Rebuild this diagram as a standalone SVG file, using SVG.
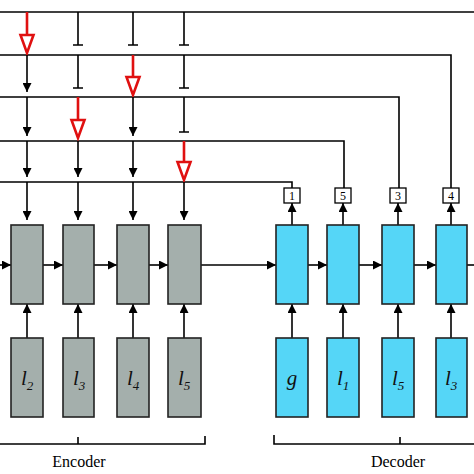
<svg xmlns="http://www.w3.org/2000/svg" width="474" height="474" viewBox="0 0 474 474">
<defs>
<marker id="ah" viewBox="0 0 10 10" refX="10" refY="5" markerWidth="9" markerHeight="9" markerUnits="userSpaceOnUse" orient="auto"><path d="M0,0 L10,5 L0,10 Z" fill="#000"/></marker>
</defs>
<style>
.ln{stroke:#000;stroke-width:1.6;fill:none}
.ar{stroke:#000;stroke-width:1.6;fill:none;marker-end:url(#ah)}
.red{stroke:#e01010;stroke-width:2.6;fill:none}
.enc{fill:#a4afac;stroke:#222;stroke-width:1.6}
.dec{fill:#55d6f7;stroke:#222;stroke-width:1.6}
.sb{fill:#fff;stroke:#000;stroke-width:1.3}
.lb{font-family:"Liberation Serif",serif;font-style:italic;font-size:21px;fill:#111}
.sub{font-size:13px}
.nb{font-family:"Liberation Serif",serif;font-size:12px;fill:#000;text-anchor:middle}
.cap{font-family:"Liberation Serif",serif;font-size:16px;fill:#000;text-anchor:middle}
</style>
<g id="connectors">
<!-- horizontal buses -->
<path class="ln" d="M0,12 H474"/>
<path class="ln" d="M0,55 H451 V188"/>
<path class="ln" d="M0,97 H399 V188"/>
<path class="ln" d="M0,141 H344 V188"/>
<path class="ln" d="M0,182 H292 V188"/>
<!-- band 1 -->
<path class="red" d="M27,12 V35"/><path class="red" d="M20.5,35 H33.5 L27,53 Z"/>
<path class="ln" d="M78,12 V45 M73,45 H83"/>
<path class="ln" d="M133,12 V45 M128,45 H138"/>
<path class="ln" d="M184,12 V45 M179,45 H189"/>
<!-- band 2 -->
<path class="ar" d="M27,55 V92"/>
<path class="ln" d="M78,55 V88 M73,88 H83"/>
<path class="red" d="M133,55 V77"/><path class="red" d="M126.5,77 H139.5 L133,95 Z"/>
<path class="ln" d="M184,55 V88 M179,88 H189"/>
<!-- band 3 -->
<path class="ar" d="M27,97 V136"/>
<path class="red" d="M78,97 V120"/><path class="red" d="M71.5,120 H84.5 L78,138 Z"/>
<path class="ar" d="M133,97 V136"/>
<path class="ln" d="M184,97 V132 M179,132 H189"/>
<!-- band 4 -->
<path class="ar" d="M27,141 V177"/>
<path class="ar" d="M78,141 V177"/>
<path class="ar" d="M133,141 V177"/>
<path class="red" d="M184,141 V162"/><path class="red" d="M177.5,162 H190.5 L184,180 Z"/>
<!-- into encoder -->
<path class="ar" d="M27,182 V220"/>
<path class="ar" d="M78,182 V220"/>
<path class="ar" d="M133,182 V220"/>
<path class="ar" d="M184,182 V220"/>
<!-- horizontal recurrence -->
<path class="ar" d="M0,265 H11"/>
<path class="ar" d="M43,265 H63"/>
<path class="ar" d="M94,265 H117"/>
<path class="ar" d="M149,265 H168"/>
<path class="ar" d="M201,265 H276"/>
<path class="ar" d="M308,265 H327"/>
<path class="ar" d="M359,265 H382"/>
<path class="ar" d="M414,265 H436"/>
<path class="ln" d="M467,265 H474"/>
<!-- inputs up -->
<path class="ar" d="M27,338 V304"/>
<path class="ar" d="M78,338 V304"/>
<path class="ar" d="M133,338 V304"/>
<path class="ar" d="M184,338 V304"/>
<path class="ar" d="M292,338 V304"/>
<path class="ar" d="M343,338 V304"/>
<path class="ar" d="M398,338 V304"/>
<path class="ar" d="M451,338 V304"/>
<!-- outputs up -->
<path class="ar" d="M292,225 V203"/>
<path class="ar" d="M343,225 V203"/>
<path class="ar" d="M398,225 V203"/>
<path class="ar" d="M451,225 V203"/>
<!-- brackets -->
<path class="ln" d="M0,444 H205 V436 M78,444 V437"/>
<path class="ln" d="M274,435 V444 H474 M400,444 V437"/>
</g>
<g id="enc1"><rect class="enc" x="11" y="225" width="32" height="79"/></g>
<g id="enc2"><rect class="enc" x="63" y="225" width="31" height="79"/></g>
<g id="enc3"><rect class="enc" x="117" y="225" width="32" height="79"/></g>
<g id="enc4"><rect class="enc" x="168" y="225" width="33" height="79"/></g>
<g id="in-l2"><rect class="enc" x="11" y="338" width="32" height="79"/><text class="lb" x="21" y="385">l<tspan class="sub" dy="5">2</tspan></text></g>
<g id="in-l3"><rect class="enc" x="63" y="338" width="31" height="79"/><text class="lb" x="73" y="385">l<tspan class="sub" dy="5">3</tspan></text></g>
<g id="in-l4"><rect class="enc" x="117" y="338" width="32" height="79"/><text class="lb" x="127" y="385">l<tspan class="sub" dy="5">4</tspan></text></g>
<g id="in-l5"><rect class="enc" x="168" y="338" width="33" height="79"/><text class="lb" x="178" y="385">l<tspan class="sub" dy="5">5</tspan></text></g>
<g id="dec1"><rect class="dec" x="276" y="225" width="32" height="79"/></g>
<g id="dec2"><rect class="dec" x="327" y="225" width="32" height="79"/></g>
<g id="dec3"><rect class="dec" x="382" y="225" width="32" height="79"/></g>
<g id="dec4"><rect class="dec" x="436" y="225" width="31" height="79"/></g>
<g id="in-g"><rect class="dec" x="276" y="338" width="32" height="79"/><text class="lb" x="292" y="385" text-anchor="middle">g</text></g>
<g id="in-l1"><rect class="dec" x="327" y="338" width="32" height="79"/><text class="lb" x="337" y="385">l<tspan class="sub" dy="5">1</tspan></text></g>
<g id="in-l5d"><rect class="dec" x="382" y="338" width="32" height="79"/><text class="lb" x="392" y="385">l<tspan class="sub" dy="5">5</tspan></text></g>
<g id="in-l3d"><rect class="dec" x="436" y="338" width="31" height="79"/><text class="lb" x="445" y="385">l<tspan class="sub" dy="5">3</tspan></text></g>
<g id="out1"><rect class="sb" x="284" y="188" width="16" height="15"/><text class="nb" x="292" y="200">1</text></g>
<g id="out5"><rect class="sb" x="335" y="188" width="16" height="15"/><text class="nb" x="343" y="200">5</text></g>
<g id="out3"><rect class="sb" x="390" y="188" width="16" height="15"/><text class="nb" x="398" y="200">3</text></g>
<g id="out4"><rect class="sb" x="443" y="188" width="16" height="15"/><text class="nb" x="451" y="200">4</text></g>
<g id="encoder-label"><text class="cap" x="79" y="467">Encoder</text></g>
<g id="decoder-label"><text class="cap" x="398" y="467">Decoder</text></g>
</svg>
